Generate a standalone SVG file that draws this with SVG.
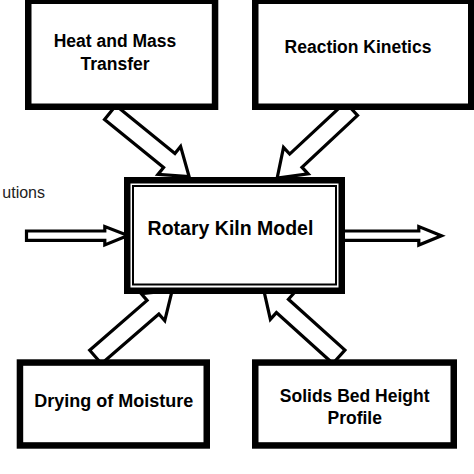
<svg xmlns="http://www.w3.org/2000/svg" width="474" height="474" viewBox="0 0 474 474">
<style>
.box{fill:#fff;stroke:#000;stroke-width:6.5}
.thin{fill:none;stroke:#000;stroke-width:2}
.arr{fill:#fff;stroke:#000;stroke-width:3.2;stroke-linejoin:miter}
.lbl{font-family:"Liberation Sans",Arial,sans-serif;font-weight:bold;font-size:17.5px;fill:#000;text-anchor:middle}
.main{font-size:19.5px}
.side{font-family:"Liberation Sans",Arial,sans-serif;font-size:16px;fill:#222;text-anchor:end}
</style>
<defs>
<polygon id="blk" points="0,-9 76,-9 76,-18 101.5,0 76,18 76,9 0,9"/>
</defs>
<rect width="474" height="474" fill="#fff"/>
<text class="side" x="45" y="198">utions</text>
<g id="connectors">
<polygon class="arr" points="26.5,231 104.8,231 104.8,226.5 128,235.6 104.8,245 104.8,240.3 26.5,240.3"/>
<polygon class="arr" points="338,231 418.8,231 418.8,226.5 441.5,235.7 418.8,245 418.8,240.3 338,240.3"/>
<use href="#blk" class="arr" transform="translate(110.2,112.6) rotate(39)"/>
<use href="#blk" class="arr" transform="translate(351.4,108.8) rotate(137)"/>
<use href="#blk" class="arr" transform="translate(95.6,357) rotate(-41)"/>
<use href="#blk" class="arr" transform="translate(338.9,356.8) rotate(-138)"/>
</g>
<g id="heat-mass">
<rect class="box" x="28.25" y="0.75" width="186.8" height="106"/>
<text class="lbl" x="115" y="46.7">Heat and Mass</text>
<text class="lbl" x="115" y="70">Transfer</text>
</g>
<g id="reaction-kinetics">
<rect class="box" x="255.25" y="0.75" width="216" height="106"/>
<text class="lbl" x="358" y="53.3">Reaction Kinetics</text>
</g>
<g id="rotary-kiln">
<rect class="box" x="127.25" y="180.25" width="214.5" height="110.5"/>
<rect class="thin" x="133" y="186" width="203" height="98.5"/>
<text class="lbl main" x="230.5" y="235">Rotary Kiln Model</text>
</g>
<g id="drying">
<rect class="box" x="19.95" y="362.55" width="186.8" height="82.9"/>
<text class="lbl" x="113.8" y="407" style="font-size:18px">Drying of Moisture</text>
</g>
<g id="solids-bed">
<rect class="box" x="255.25" y="362.55" width="198.5" height="82.9"/>
<text class="lbl" x="354.7" y="402">Solids Bed Height</text>
<text class="lbl" x="354.7" y="424.3">Profile</text>
</g>
</svg>
